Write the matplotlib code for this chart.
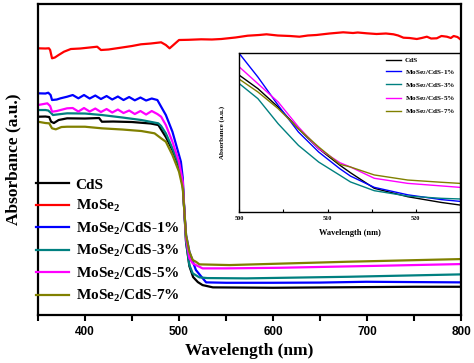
import matplotlib
matplotlib.use("Agg")
import matplotlib.pyplot as plt

plt.rcParams['font.family'] = ['Liberation Serif', 'DejaVu Serif']
plt.rcParams['font.weight'] = 'bold'
plt.rcParams['mathtext.default'] = 'regular'

# ---------------- main data (wavelength nm, absorbance a.u.) ----------------
cds_x = [350, 358, 362, 364, 367, 372, 381, 400, 415, 418, 430, 450, 470, 478, 486, 493, 500, 504, 505.7, 507.5, 511, 515, 520, 525, 536, 600, 749, 800]
cds_y = [1.983, 1.985, 1.98, 1.933, 1.92, 1.95, 1.967, 1.965, 1.97, 1.933, 1.935, 1.93, 1.915, 1.90, 1.78, 1.65, 1.48, 1.29, 1.033, 0.73, 0.49, 0.38, 0.33, 0.30, 0.277, 0.273, 0.283, 0.283]

mose2_x = [350, 358, 361.7, 363, 365, 368, 372, 377.7, 385, 395, 405, 413, 417, 425, 438, 450, 459.5, 470, 481, 486, 490, 494, 500, 510, 523.5, 535, 545, 560, 573, 585, 593, 605, 618, 628, 637, 646, 660, 674.5, 685, 690, 699.5, 710, 720, 728, 733, 738.6, 745, 752.8, 758, 763.5, 768, 774, 779, 784.8, 789, 792, 796, 800]
mose2_y = [2.667, 2.665, 2.667, 2.65, 2.567, 2.575, 2.60, 2.633, 2.66, 2.665, 2.675, 2.683, 2.65, 2.655, 2.673, 2.69, 2.707, 2.715, 2.727, 2.70, 2.667, 2.70, 2.75, 2.752, 2.757, 2.755, 2.76, 2.775, 2.793, 2.80, 2.807, 2.795, 2.79, 2.783, 2.795, 2.80, 2.815, 2.827, 2.82, 2.825, 2.817, 2.81, 2.815, 2.807, 2.795, 2.773, 2.77, 2.76, 2.77, 2.783, 2.765, 2.767, 2.79, 2.783, 2.77, 2.79, 2.78, 2.75]

m1_x = [350, 358, 361, 363.5, 365, 370, 374, 381, 387, 393, 399, 405, 411, 417, 423, 429, 435, 441, 447, 453, 459, 465, 471, 477, 481, 486, 493, 497, 500, 502, 504, 505.7, 507.5, 511, 516, 518, 525, 528.8, 550, 600, 650, 699, 750, 800]
m1_y = [2.217, 2.215, 2.223, 2.20, 2.15, 2.155, 2.167, 2.183, 2.20, 2.167, 2.20, 2.165, 2.195, 2.16, 2.19, 2.155, 2.185, 2.15, 2.18, 2.147, 2.175, 2.145, 2.165, 2.15, 2.083, 2.00, 1.833, 1.70, 1.60, 1.533, 1.37, 1.033, 0.80, 0.633, 0.50, 0.45, 0.37, 0.327, 0.323, 0.323, 0.325, 0.333, 0.33, 0.327]

m3_x = [350, 358, 361, 364, 366, 370, 381, 400, 418, 440, 460, 478, 481, 486, 493, 500, 504, 505.7, 507.5, 511, 514.6, 521.7, 530, 571.5, 680, 800]
m3_y = [2.05, 2.05, 2.045, 2.02, 2.00, 2.005, 2.017, 2.015, 2.00, 1.975, 1.95, 1.917, 1.89, 1.817, 1.667, 1.50, 1.30, 1.033, 0.733, 0.50, 0.417, 0.377, 0.37, 0.367, 0.383, 0.407]

m5_x = [350, 356, 360, 363, 365, 370, 374, 381, 387, 393, 399, 405, 411, 417, 423, 429, 435, 441, 447, 453, 459, 465, 471, 477, 481, 486, 493, 500, 504, 505.7, 507.5, 511, 514.6, 518, 525, 550, 607, 713.6, 800]
m5_y = [2.10, 2.11, 2.117, 2.09, 2.033, 2.04, 2.05, 2.067, 2.07, 2.035, 2.07, 2.035, 2.065, 2.03, 2.06, 2.025, 2.055, 2.02, 2.045, 2.01, 2.04, 2.005, 2.04, 2.01, 1.983, 1.90, 1.733, 1.533, 1.333, 1.033, 0.77, 0.57, 0.517, 0.50, 0.467, 0.467, 0.473, 0.493, 0.51]

m7_x = [350, 358, 362, 365, 369, 375, 381, 400, 418, 440, 460, 474, 481, 486, 493, 500, 504, 505.7, 507.5, 511, 514.6, 518, 521.7, 553.7, 678, 800]
m7_y = [1.933, 1.92, 1.917, 1.867, 1.857, 1.88, 1.883, 1.883, 1.867, 1.855, 1.84, 1.817, 1.767, 1.733, 1.60, 1.433, 1.267, 1.033, 0.80, 0.633, 0.55, 0.533, 0.507, 0.50, 0.533, 0.56]

# ---------------- inset data ----------------
in_x = [500, 502.1, 504.4, 506.7, 509, 511.4, 512.6, 515.3, 519.1, 522.9, 525]
in_cds = [0.86, 0.776, 0.66, 0.524, 0.398, 0.294, 0.247, 0.149, 0.096, 0.060, 0.044]
in_m1 = [0.996, 0.849, 0.671, 0.503, 0.377, 0.272, 0.226, 0.155, 0.108, 0.078, 0.067]
in_m3 = [0.807, 0.713, 0.555, 0.419, 0.314, 0.231, 0.189, 0.134, 0.10, 0.086, 0.082]
in_m5 = [0.912, 0.807, 0.692, 0.535, 0.398, 0.31, 0.283, 0.212, 0.18, 0.164, 0.155]
in_m7 = [0.835, 0.755, 0.65, 0.524, 0.409, 0.30, 0.283, 0.233, 0.201, 0.187, 0.18]

labels = ['CdS', 'MoSe$_2$', 'MoSe$_2$/CdS-1%', 'MoSe$_2$/CdS-3%', 'MoSe$_2$/CdS-5%', 'MoSe$_2$/CdS-7%']
colors = ['#000000', '#ff0000', '#0000ff', '#008080', '#ff00ff', '#808000']
main_tick_vals = [400, 500, 600, 700, 800]
inset_tick_vals = [500, 510, 520]

fig = plt.figure(figsize=(4.74, 3.63), dpi=100)
ax = fig.add_axes([0.080, 0.132, 0.893, 0.857])

series = [(cds_x, cds_y), (mose2_x, mose2_y), (m1_x, m1_y), (m3_x, m3_y), (m5_x, m5_y), (m7_x, m7_y)]
for (xs, ys), lab, c in zip(series, labels, colors):
    ax.plot(xs, ys, color=c, lw=1.6, label=lab)

ax.set_xlim(350, 800)
ax.set_ylim(0, 3.11)
ax.set_xticks(main_tick_vals)
ax.set_xticks([350, 450, 550, 650, 750], minor=True)
ax.set_yticks([])
ax.tick_params(axis='x', which='both', direction='out', length=4, width=1.5)
for lab in ax.get_xticklabels():
    lab.set_fontfamily('Liberation Sans')
    lab.set_fontweight('bold')
    lab.set_fontsize(8.5)
for s in ax.spines.values():
    s.set_linewidth(1.6)
ax.set_xlabel('Wavelength (nm)', fontsize=12.5, fontweight='bold', labelpad=4)
ax.set_ylabel('Absorbance (a.u.)', fontsize=12.5, fontweight='bold', labelpad=12)

leg = ax.legend(loc='lower left', bbox_to_anchor=(-0.005, 0.035), frameon=False,
                fontsize=11, handlelength=2.2, handletextpad=0.4, labelspacing=0.42,
                borderaxespad=0, borderpad=0)
for t in leg.get_texts():
    t.set_fontweight('bold')

# ---------------- inset ----------------
axi = fig.add_axes([0.505, 0.416, 0.465, 0.438])
inset_series = [in_cds, in_m1, in_m3, in_m5, in_m7]
inset_labels = ['CdS', 'MoSe$_2$/CdS-1%', 'MoSe$_2$/CdS-3%', 'MoSe$_2$/CdS-5%', 'MoSe$_2$/CdS-7%']
inset_colors = ['#000000', '#0000ff', '#008080', '#ff00ff', '#808000']
for ys, lab, c in zip(inset_series, inset_labels, inset_colors):
    axi.plot(in_x, ys, color=c, lw=1.0, label=lab)
axi.set_xlim(500, 525)
axi.set_ylim(0, 1.0)
axi.set_xticks(inset_tick_vals)
axi.set_xticks([505, 515], minor=True)
axi.set_yticks([])
axi.tick_params(axis='x', which='both', direction='in', length=2, width=0.8, labelsize=4.5, pad=3)
for s in axi.spines.values():
    s.set_linewidth(1.0)
axi.set_xlabel('Wavelength (nm)', fontsize=6, fontweight='bold', labelpad=6)
axi.set_ylabel('Absorbance (a.u.)', fontsize=5, fontweight='bold', labelpad=10)
li = axi.legend(loc='upper right', frameon=False, fontsize=5.2, handlelength=2.2,
                handletextpad=0.5, labelspacing=0.6, borderaxespad=0.2)
for t in li.get_texts():
    t.set_fontweight('bold')

fig.savefig('out.png', dpi=100)
